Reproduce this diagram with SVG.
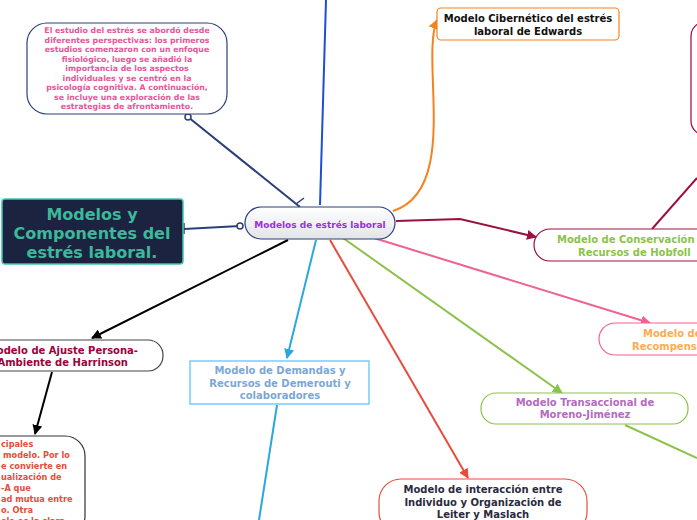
<svg xmlns="http://www.w3.org/2000/svg" width="697" height="520" viewBox="0 0 697 520">
<style>
text{font-family:"DejaVu Sans","Liberation Sans",sans-serif;font-weight:bold;text-anchor:middle}
text.s{text-anchor:start}
.b{fill:#fff;stroke-width:1.2}
.c{fill:none;stroke-width:2}
</style>
<defs>
<linearGradient id="g" x1="0" y1="0" x2="0" y2="1"><stop offset="0" stop-color="#fff"/><stop offset="1" stop-color="#e2e4e8"/></linearGradient>
<marker id="a" viewBox="0 0 10 10" refX="9" refY="5" markerWidth="5" markerHeight="5" orient="auto-start-reverse"><path d="M0,0L10,5L0,10z" fill="context-stroke"/></marker>
</defs>
<rect width="697" height="520" fill="#fff"/>
<g id="connectors">
<path class="c" d="M188,117L300,207" stroke="#2c3e7a"/>
<path d="M296,204l8,-6" stroke="#2c3e7a" stroke-width="1.5"/>
<circle cx="188" cy="117" r="3" fill="#fff" stroke="#2c3e7a" stroke-width="1.5"/>
<path class="c" d="M240,226L184,229" stroke="#2c3e7a"/>
<path d="M184,223v11" stroke="#2c3e7a" stroke-width="1.5"/>
<circle cx="240" cy="226" r="3" fill="#fff" stroke="#2c3e7a" stroke-width="1.5"/>
<path class="c" d="M320,205L326,0" stroke="#1a4fd6"/>
<path class="c" d="M393,211C460,190 420,60 437,20" stroke="#f5821f" marker-end="url(#a)"/>
<path class="c" d="M396,221L460,219L536,237" stroke="#9b1040" marker-end="url(#a)"/>
<path class="c" d="M652,229L697,178" stroke="#9b1040"/>
<path class="c" d="M374,238L650,323" stroke="#f06292" marker-end="url(#a)"/>
<path class="c" d="M343,238L562,393" stroke="#8bc34a" marker-end="url(#a)"/>
<path class="c" d="M625,425L697,458" stroke="#8bc34a"/>
<path class="c" d="M330,240L468,478" stroke="#e74c3c" marker-end="url(#a)"/>
<path class="c" d="M316,240L287,358" stroke="#29a8e0" marker-end="url(#a)"/>
<path class="c" d="M277,405L259,520" stroke="#29a8e0"/>
<path class="c" d="M288,240L92,338" stroke="#000" marker-end="url(#a)"/>
<path class="c" d="M52,372L35,434" stroke="#000" marker-end="url(#a)"/>
</g>
<g id="note">
<rect class="b" x="27" y="23" width="200" height="91" rx="20" stroke="#2c3e7a"/>
<g font-size="7.8" fill="#e8559a">
<text x="127" y="33">El estudio del estrés se abordó desde</text>
<text x="127" y="42.5">diferentes perspectivas: los primeros</text>
<text x="127" y="52">estudios comenzaron con un enfoque</text>
<text x="127" y="61.5">fisiológico, luego se añadió la</text>
<text x="127" y="71">importancia de los aspectos</text>
<text x="127" y="80.5">individuales y se centró en la</text>
<text x="127" y="90">psicología cognitiva. A continuación,</text>
<text x="127" y="99.5">se incluye una exploración de las</text>
<text x="127" y="109">estrategias de afrontamiento.</text>
</g>
</g>
<g id="title">
<rect x="2" y="199" width="181" height="65" rx="3" fill="#1b2340" stroke="#3ec8b0" stroke-width="1.5"/>
<g font-size="16" fill="#3cb89a">
<text x="92" y="220">Modelos y</text>
<text x="92" y="239">Componentes del</text>
<text x="92" y="258">estrés laboral.</text>
</g>
</g>
<g id="main">
<rect x="245" y="207" width="150" height="32" rx="16" fill="url(#g)" stroke="#2c3e7a" stroke-width="1.2"/>
<text x="320" y="228" font-size="9" fill="#9b30d9">Modelos de estrés laboral</text>
</g>
<g id="edwards">
<rect class="b" x="437" y="8" width="182" height="32" rx="4" stroke="#f5821f" stroke-width="1.5"/>
<g font-size="10" fill="#111"><text x="528" y="22">Modelo Cibernético del estrés</text><text x="528" y="35">laboral de Edwards</text></g>
</g>
<g id="topright"><rect class="b" x="691" y="22" width="40" height="113" rx="14" stroke="#a0003c"/></g>
<g id="hobfoll">
<rect class="b" x="534" y="229" width="190" height="32" rx="16" stroke="#9b1040"/>
<g font-size="10" fill="#8bc34a"><text class="s" x="557" y="243">Modelo de Conservación de</text><text class="s" x="578" y="256">Recursos de Hobfoll</text></g>
</g>
<g id="recompensa">
<rect class="b" x="599" y="323" width="130" height="32" rx="16" stroke="#f06292"/>
<g font-size="10" fill="#ffab50"><text class="s" x="643" y="337">Modelo de</text><text class="s" x="632" y="350">Recompensa</text></g>
</g>
<g id="moreno">
<rect class="b" x="481" y="393" width="207" height="31" rx="15" stroke="#8bc34a"/>
<g font-size="10" fill="#b36bc0"><text x="585" y="406">Modelo Transaccional de</text><text x="585" y="418">Moreno-Jiménez</text></g>
</g>
<g id="leiter">
<rect class="b" x="379" y="479" width="208" height="55" rx="22" stroke="#e74c3c"/>
<g font-size="10" fill="#2a2a40"><text x="483" y="493">Modelo de interacción entre</text><text x="483" y="506">Individuo y Organización de</text><text x="483" y="518">Leiter y Maslach</text></g>
</g>
<g id="demerouti">
<rect class="b" x="190" y="361" width="179" height="43" stroke="#4fc3f7"/>
<g font-size="10" fill="#7ba7d4"><text x="280" y="374">Modelo de Demandas y</text><text x="280" y="387">Recursos de Demerouti y</text><text x="280" y="399">colaboradores</text></g>
</g>
<g id="harrinson">
<rect class="b" x="-20" y="340" width="183" height="31" rx="15" stroke="#444"/>
<g font-size="10" fill="#a0003c"><text x="138" y="354" style="text-anchor:end">Modelo de Ajuste Persona-</text><text x="128" y="366" style="text-anchor:end">Ambiente de Harrinson</text></g>
</g>
<g id="harrinson-note">
<rect class="b" x="-20" y="436" width="105" height="100" rx="20" stroke="#333"/>
<g font-size="8.2" fill="#e74c3c">
<text class="s" x="1" y="447">cipales</text>
<text class="s" x="3" y="458">modelo. Por lo</text>
<text class="s" x="1" y="469">e convierte  en</text>
<text class="s" x="1" y="480">ualización de</text>
<text class="s" x="1" y="491">-A que</text>
<text class="s" x="1" y="502">ad mutua entre</text>
<text class="s" x="1" y="513">o. Otra</text>
<text class="s" x="1" y="524">elo es la clara</text>
</g>
</g>
</svg>
